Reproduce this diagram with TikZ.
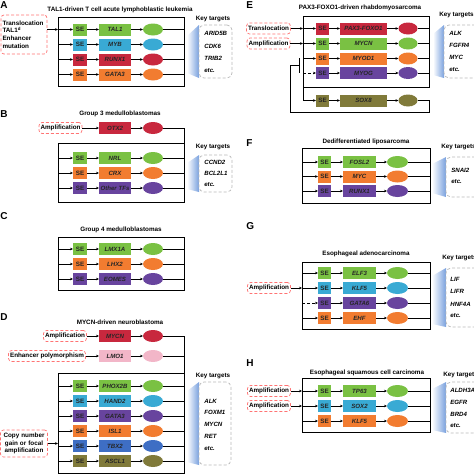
\documentclass[tikz,border=0pt]{standalone}
\usepackage{fontspec}
\setmainfont{Liberation Sans}
\usetikzlibrary{arrows.meta,shapes.geometric}

\definecolor{cgreen}{RGB}{122,193,67}
\definecolor{ccyan}{RGB}{57,170,212}
\definecolor{cred}{RGB}{200,40,62}
\definecolor{corange}{RGB}{242,124,48}
\definecolor{cpurple}{RGB}{104,68,158}
\definecolor{cblue}{RGB}{62,110,196}
\definecolor{colive}{RGB}{128,122,58}
\definecolor{cpink}{RGB}{242,182,200}
\definecolor{cgrad}{RGB}{120,160,222}

\tikzset{
  lbl/.style={font=\fontsize{10}{10}\selectfont\bfseries, anchor=west, inner sep=0},
  ttl/.style={font=\fontsize{6.3}{7}\selectfont\bfseries, inner sep=0},
  pbox/.style={draw, line width=0.8pt, inner sep=0, outer sep=0},
  se/.style={minimum width=14pt, minimum height=12pt, inner sep=0, outer sep=0,
    font=\fontsize{6.3}{7}\selectfont\bfseries, text=black!85},
  gene/.style={minimum width=32pt, minimum height=12pt, inner sep=0, outer sep=0,
    font=\fontsize{6.1}{7}\selectfont\bfseries\itshape, text=black!85},
  tf/.style={ellipse, minimum width=20pt, minimum height=12pt, inner sep=0, outer sep=0},
  cause/.style={draw=red!55, densely dashed, rounded corners=3pt, fill=white,
    inner sep=1.5pt, minimum height=11pt, font=\fontsize{6.3}{7.8}\selectfont\bfseries},
  keybox/.style={draw=gray!55, densely dashed, rounded corners=5pt, fill=white, inner sep=0},
  item/.style={anchor=west, inner sep=0, font=\fontsize{6.1}{7}\selectfont\bfseries\itshape},
  arr/.style={-{Stealth[length=3pt,width=2.6pt]}},
}

\begin{document}
\begin{tikzpicture}[x=1pt,y=-1pt,line width=0.7pt]
\useasboundingbox (0,0) rectangle (474,474);

% ---- A
\node[lbl] (A-lbl) at (0,5) {A};
\node[ttl] (A-ttl) at (120,9.5) {TAL1-driven T cell acute lymphoblastic leukemia};
\node[pbox, minimum width=126pt, minimum height=69pt] (A-box) at (121,51.5) {};
\node[cause, align=left, text width=43pt, minimum height=39pt] (A-src) at (24,34.5)
  {Translocation\\TAL1\textsuperscript{d}\\Enhancer\\mutation};
\foreach \i/\y/\c/\g in {1/29.5/cgreen/TAL1, 2/44.5/ccyan/MYB, 3/59.5/cred/RUNX1, 4/74.5/corange/GATA3}{
  \node[se, fill=\c] (A-se-\i) at (80,\y) {SE};
  \node[gene, fill=\c] (A-g-\i) at (115,\y) {\g};
  \node[tf, fill=\c] (A-e-\i) at (153,\y) {};
  \draw[arr] (A-box.west |- A-se-\i) -- (A-se-\i);
  \draw[arr] (A-se-\i) -- (A-g-\i);
  \draw[arr] (A-g-\i) -- (A-e-\i);
  \draw (A-e-\i) -- (A-box.east |- A-e-\i);
}
\draw[arr] (A-src.east |- A-se-1) -- (A-box.west |- A-se-1);
\node[ttl] (A-kt) at (213,19) {Key targets};
\shade[left color=white, right color=cgrad] (187,36) -- (199,25) -- (199,78) -- (187,73) -- cycle;
\node[keybox, minimum width=33pt, minimum height=53pt] (A-key) at (215.5,51.5) {};
\foreach \t/\y [count=\n] in {ARID5B/33, CDK6/46, TRIB2/58.5, etc./71}
  \node[item] (A-k-\n) at (204,\y) {\t};

% ---- B
\node[lbl] (B-lbl) at (0,114) {B};
\node[ttl] (B-ttl) at (120,113.5) {Group 3 medulloblastomas};
\node[pbox, minimum width=126pt, minimum height=59pt] (B-box) at (121,172.5) {};
\node[cause] (B-src) at (60.5,128) {Amplification};
\node[gene, fill=cred] (B-g-0) at (115,128) {OTX2};
\node[tf, fill=cred] (B-e-0) at (153,128) {};
\draw[arr] (B-src) -- (B-g-0);
\draw[arr] (B-g-0) -- (B-e-0);
\draw (B-e-0) -| (B-box.north east);
\foreach \i/\y/\c/\g in {1/158/cgreen/NRL, 2/173/corange/CRX, 3/188/cpurple/Other TFs}{
  \node[se, fill=\c] (B-se-\i) at (80,\y) {SE};
  \node[gene, fill=\c] (B-g-\i) at (115,\y) {\g};
  \node[tf, fill=\c] (B-e-\i) at (153,\y) {};
  \draw[arr] (B-box.west |- B-se-\i) -- (B-se-\i);
  \draw[arr] (B-se-\i) -- (B-g-\i);
  \draw[arr] (B-g-\i) -- (B-e-\i);
  \draw (B-e-\i) -- (B-box.east |- B-e-\i);
}
\node[ttl] (B-kt) at (213,147) {Key targets};
\shade[left color=white, right color=cgrad] (187,163) -- (199,155) -- (199,192) -- (187,189) -- cycle;
\node[keybox, minimum width=33pt, minimum height=37pt] (B-key) at (215.5,173.5) {};
\foreach \t/\y [count=\n] in {CCND2/162.5, BCL2L1/173.5, etc./185}
  \node[item] (B-k-\n) at (204,\y) {\t};

% ---- C
\node[lbl] (C-lbl) at (0,216) {C};
\node[ttl] (C-ttl) at (121,230) {Group 4 medulloblastomas};
\node[pbox, minimum width=126pt, minimum height=53pt] (C-box) at (121,263.5) {};
\foreach \i/\y/\c/\g in {1/249/cgreen/LMX1A, 2/264/corange/LHX2, 3/279/cpurple/EOMES}{
  \node[se, fill=\c] (C-se-\i) at (80,\y) {SE};
  \node[gene, fill=\c] (C-g-\i) at (115,\y) {\g};
  \node[tf, fill=\c] (C-e-\i) at (153,\y) {};
  \draw[arr] (C-box.west |- C-se-\i) -- (C-se-\i);
  \draw[arr] (C-se-\i) -- (C-g-\i);
  \draw[arr] (C-g-\i) -- (C-e-\i);
  \draw (C-e-\i) -- (C-box.east |- C-e-\i);
}

% ---- D
\node[lbl] (D-lbl) at (0,317) {D};
\node[ttl] (D-ttl) at (120,322) {MYCN-driven neuroblastoma};
\node[pbox, minimum width=126pt, minimum height=100pt] (D-box) at (121,423) {};
\node[cause] (D-src1) at (65,336) {Amplification};
\node[gene, fill=cred] (D-g-a) at (115,336) {MYCN};
\node[tf, fill=cred] (D-e-a) at (153,336) {};
\node[cause] (D-src2) at (47,356) {Enhancer polymorphism};
\node[gene, fill=cpink] (D-g-b) at (115,356) {LMO1};
\node[tf, fill=cpink] (D-e-b) at (153,356) {};
\draw[arr] (D-src1) -- (D-g-a);
\draw[arr] (D-g-a) -- (D-e-a);
\draw (D-e-a) -| (D-box.north east);
\draw[arr] (D-src2) -- (D-g-b);
\draw[arr] (D-g-b) -- (D-e-b);
\draw (D-e-b) -- (D-box.east |- D-e-b);
\foreach \i/\y/\c/\g in {1/386/cgreen/PHOX2B, 2/401/ccyan/HAND2, 3/416/cpurple/GATA3,
                         4/431/corange/ISL1, 5/446/cblue/TBX2, 6/461/colive/ASCL1}{
  \node[se, fill=\c] (D-se-\i) at (80,\y) {SE};
  \node[gene, fill=\c] (D-g-\i) at (115,\y) {\g};
  \node[tf, fill=\c] (D-e-\i) at (153,\y) {};
  \draw[arr] (D-box.west |- D-se-\i) -- (D-se-\i);
  \draw[arr] (D-se-\i) -- (D-g-\i);
  \draw[arr] (D-g-\i) -- (D-e-\i);
  \draw (D-e-\i) -- (D-box.east |- D-e-\i);
}
\node[cause, align=center, text width=44pt, minimum height=27pt] (D-src3) at (24,443.5)
  {Copy number\\gain or focal\\amplification};
\draw[arr] (D-src3) -- (D-box.west |- D-src3);
\node[ttl] (D-kt) at (213,376) {Key targets};
\shade[left color=white, right color=cgrad] (187,391) -- (199,382) -- (199,465) -- (187,462) -- cycle;
\node[keybox, minimum width=32pt, minimum height=83pt] (D-key) at (215,423.5) {};
\foreach \t/\y [count=\n] in {ALK/401, FOXM1/412.5, MYCN/424, RET/436, etc./448.5}
  \node[item] (D-k-\n) at (204,\y) {\t};

% ---- E
\node[lbl] (E-lbl) at (246,5) {E};
\node[ttl] (E-ttl) at (360,7.5) {PAX3-FOXO1-driven rhabdomyosarcoma};
\node[pbox, minimum width=126pt, minimum height=71pt] (E-box) at (366,51.5) {};
\foreach \i/\y/\c/\g/\s in {1/28.5/cred/PAX3-FOXO1/solid, 2/43.5/cgreen/MYCN/solid,
                            3/58.5/corange/MYOD1/solid, 4/73/cpurple/MYOG/densely dashed}{
  \node[se, fill=\c, minimum width=13pt] (E-se-\i) at (322.5,\y) {SE};
  \node[gene, fill=\c, minimum width=47pt] (E-g-\i) at (363.5,\y) {\g};
  \node[tf, fill=\c, minimum width=19pt] (E-e-\i) at (408,\y) {};
  \draw[arr, \s] (E-box.west |- E-se-\i) -- (E-se-\i);
  \draw[arr] (E-se-\i) -- (E-g-\i);
  \draw[arr] (E-g-\i) -- (E-e-\i);
  \draw (E-e-\i) -- (E-box.east |- E-e-\i);
}
\node[se, fill=colive, minimum width=13pt] (E-se-5) at (322.5,100.5) {SE};
\node[gene, fill=colive, minimum width=47pt] (E-g-5) at (363.5,100.5) {SOX8};
\node[tf, fill=colive, minimum width=19pt] (E-e-5) at (408,100.5) {};
\draw[arr] (E-box.south west) |- (E-se-5);
\draw[arr] (E-se-5) -- (E-g-5);
\draw[arr] (E-g-5) -- (E-e-5);
\coordinate (E-c1) at (429,112);
\coordinate (E-c2) at (290,112);
\coordinate (E-bar) at (300,65.5);
\draw[-{Bar[width=15pt]}] (E-e-5) -| (E-c1) -- (E-c2) |- (E-bar);
\node[cause] (E-src1) at (268.5,28.5) {Translocation};
\node[cause] (E-src2) at (268.5,43.5) {Amplification};
\draw[arr] (E-src1) -- (E-box.west |- E-src1);
\draw[arr] (E-src2) -- (E-box.west |- E-src2);
\node[ttl, anchor=west] (E-kt) at (439,15) {Key targets};
\shade[left color=white, right color=cgrad] (433,34) -- (444,25) -- (444,78) -- (433,75) -- cycle;
\node[keybox, minimum width=46pt, minimum height=53pt] (E-key) at (467,51.5) {};
\foreach \t/\y [count=\n] in {ALK/33, FGFR4/45.5, MYC/57.5, etc./70}
  \node[item] (E-k-\n) at (449,\y) {\t};

% ---- F
\node[lbl] (F-lbl) at (246,143) {F};
\node[ttl] (F-ttl) at (366,142) {Dedifferentiated liposarcoma};
\node[pbox, minimum width=128pt, minimum height=55pt] (F-box) at (366,175.5) {};
\foreach \i/\y/\c/\g in {1/162/cgreen/FOSL2, 2/176.5/corange/MYC, 3/191/cpurple/RUNX1}{
  \node[se, fill=\c, minimum width=13pt] (F-se-\i) at (324.5,\y) {SE};
  \node[gene, fill=\c, minimum width=33pt] (F-g-\i) at (359.5,\y) {\g};
  \node[tf, fill=\c, minimum width=21pt] (F-e-\i) at (397.5,\y) {};
  \draw[arr] (F-box.west |- F-se-\i) -- (F-se-\i);
  \draw[arr] (F-se-\i) -- (F-g-\i);
  \draw[arr] (F-g-\i) -- (F-e-\i);
  \draw (F-e-\i) -- (F-box.east |- F-e-\i);
}
\node[ttl, anchor=west] (F-kt) at (441,147) {Key targets};
\shade[left color=white, right color=cgrad] (432,164) -- (446,157) -- (446,197) -- (432,193) -- cycle;
\node[keybox, minimum width=44pt, minimum height=40pt] (F-key) at (468,177) {};
\foreach \t/\y [count=\n] in {SNAI2/170, etc./182}
  \node[item] (F-k-\n) at (451,\y) {\t};

% ---- G
\node[lbl] (G-lbl) at (246,226) {G};
\node[ttl] (G-ttl) at (366,254) {Esophageal adenocarcinoma};
\node[pbox, minimum width=128pt, minimum height=67pt] (G-box) at (366,295.5) {};
\foreach \i/\y/\c/\g/\s in {1/273/cgreen/ELF3/solid, 2/288/ccyan/KLF5/solid,
                            3/303/cpurple/GATA6/densely dashed, 4/318/corange/EHF/solid}{
  \node[se, fill=\c, minimum width=13pt] (G-se-\i) at (324.5,\y) {SE};
  \node[gene, fill=\c, minimum width=33pt] (G-g-\i) at (359.5,\y) {\g};
  \node[tf, fill=\c, minimum width=21pt] (G-e-\i) at (397.5,\y) {};
  \draw[arr, \s] (G-box.west |- G-se-\i) -- (G-se-\i);
  \draw[arr] (G-se-\i) -- (G-g-\i);
  \draw[arr] (G-g-\i) -- (G-e-\i);
  \draw (G-e-\i) -- (G-box.east |- G-e-\i);
}
\node[cause] (G-src) at (269,288) {Amplification};
\draw[arr] (G-src) -- (G-box.west |- G-src);
\node[ttl, anchor=west] (G-kt) at (442,258) {Key targets};
\shade[left color=white, right color=cgrad] (432,276) -- (446,268) -- (446,327) -- (432,324) -- cycle;
\node[keybox, minimum width=44pt, minimum height=59pt] (G-key) at (468,297.5) {};
\foreach \t/\y [count=\n] in {LIF/279, LIFR/291.5, HNF4A/304, etc./316}
  \node[item] (G-k-\n) at (450,\y) {\t};

% ---- H
\node[lbl] (H-lbl) at (246,363) {H};
\node[ttl] (H-ttl) at (367,373) {Esophageal squamous cell carcinoma};
\node[pbox, minimum width=128pt, minimum height=54pt] (H-box) at (366,405) {};
\foreach \i/\y/\c/\g in {1/391/cgreen/TP63, 2/406/ccyan/SOX2, 3/421/corange/KLF5}{
  \node[se, fill=\c, minimum width=13pt] (H-se-\i) at (324.5,\y) {SE};
  \node[gene, fill=\c, minimum width=33pt] (H-g-\i) at (359.5,\y) {\g};
  \node[tf, fill=\c, minimum width=21pt] (H-e-\i) at (397.5,\y) {};
  \draw[arr] (H-box.west |- H-se-\i) -- (H-se-\i);
  \draw[arr] (H-se-\i) -- (H-g-\i);
  \draw[arr] (H-g-\i) -- (H-e-\i);
  \draw (H-e-\i) -- (H-box.east |- H-e-\i);
}
\node[cause] (H-src1) at (269,391) {Amplification};
\node[cause] (H-src2) at (269,406) {Amplification};
\draw[arr] (H-src1) -- (H-box.west |- H-src1);
\draw[arr] (H-src2) -- (H-box.west |- H-src2);
\node[ttl, anchor=west] (H-kt) at (443,375) {Key targets};
\shade[left color=white, right color=cgrad] (432,389) -- (446,382) -- (446,433) -- (432,430) -- cycle;
\node[keybox, minimum width=44pt, minimum height=51pt] (H-key) at (468,407.5) {};
\foreach \t/\y [count=\n] in {ALDH3A1/390, EGFR/402, BRD4/414, etc./426}
  \node[item] (H-k-\n) at (450,\y) {\t};
\end{tikzpicture}
\end{document}
